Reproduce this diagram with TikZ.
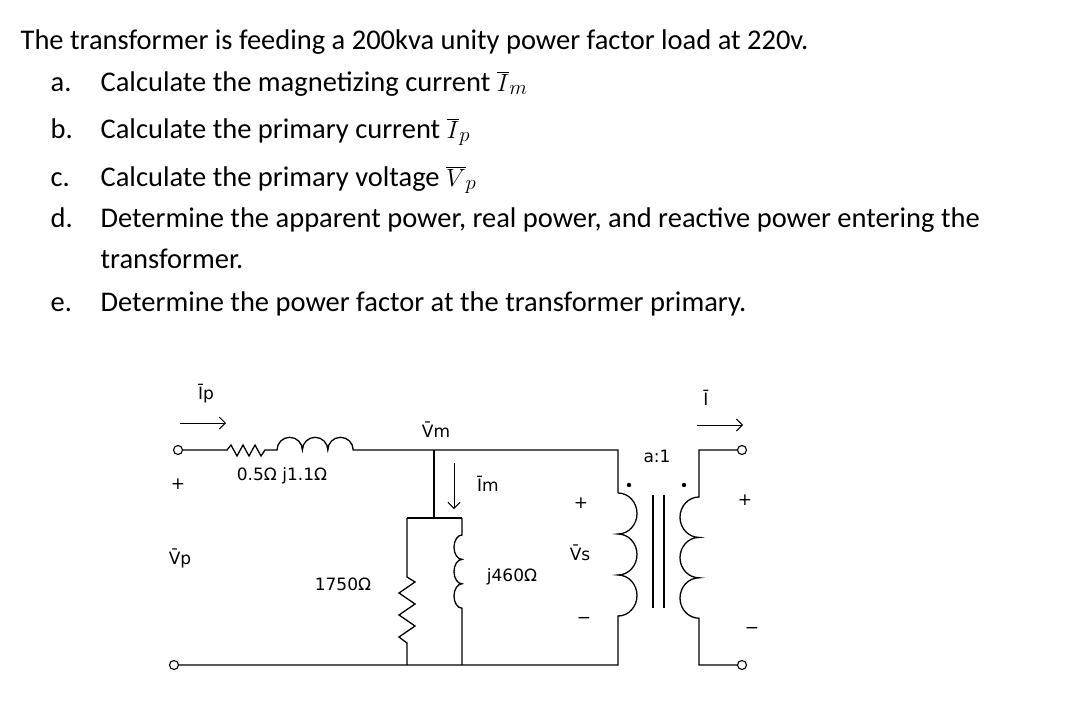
\documentclass[tikz,border=0pt]{standalone}
\usepackage{fontspec}
\usetikzlibrary{arrows.meta}
\setmainfont{Carlito}
\newfontfamily\cfont{DejaVu Sans}
\begin{document}
\begin{tikzpicture}[x=1pt,y=-1pt,line width=1.3pt,
  txt/.style={anchor=base west,inner sep=0pt,font=\fontsize{28.5}{30}\selectfont},
  lbl/.style={inner sep=0pt,font=\cfont\fontsize{17}{19}\selectfont},
  term/.style={circle,draw,line width=1.1pt,minimum size=9pt,inner sep=0pt,fill=white}]
\useasboundingbox[fill=white] (0,0) rectangle (1077,702);
% text
\node[txt] (t0) at (20,49) {The transformer is feeding a 200kva unity power factor load at 220v.};
\node[txt] (la) at (50,91) {a.};\node[txt] (ta) at (100,91) {Calculate the magnetizing current $\overline{I}_m$};
\node[txt] (lb) at (50,138) {b.};\node[txt] (tb) at (100,138) {Calculate the primary current $\overline{I}_p$};
\node[txt] (lc) at (50,186) {c.};\node[txt] (tc) at (100,186) {Calculate the primary voltage $\overline{V}_p$};
\node[txt] (ld) at (50,227) {d.};\node[txt] (td) at (100,227) {Determine the apparent power, real power, and reactive power entering the};
\node[txt] (td2) at (100,268) {transformer.};
\node[txt] (le) at (50,311) {e.};\node[txt] (te) at (100,311) {Determine the power factor at the transformer primary.};
% circuit
\node[term] (p1) at (178,450) {};
\node[term] (p2) at (174,665) {};
\node[term] (s1) at (742,450) {};
\node[term] (s2) at (742,665) {};
\draw (p1) -- (227,450) -- (231,445) -- (237,456) -- (243,445) -- (249,456) -- (255,445) -- (261,456) -- (265,450) -- (277,450)
  arc(180:360:12.7) arc(180:360:12.7) arc(180:360:12.7) -- (618,450) -- (618,493);
\draw (618,493) arc(-90:90:19 and 20.5) arc(-90:90:19 and 20.5) arc(-90:90:19 and 20.5) -- (618,665) -- (p2);
\draw (434,450) -- (434,518);
\draw (407,518) -- (462,518);
\draw (407,518) -- (407,577) -- (415,582) -- (399,593) -- (415,604) -- (399,615) -- (415,626) -- (399,637) -- (407,643) -- (407,665);
\draw (462,518) -- (462,535) arc(-90:-270:8 and 12.2) arc(-90:-270:8 and 12.2) arc(-90:-270:8 and 12.2) -- (462,665);
\draw (653,495) -- (653,608) (664,495) -- (664,608);
\draw (s1) -- (699,450) -- (699,497) arc(-90:-270:19 and 20.2) arc(-90:-270:19 and 20.2) arc(-90:-270:19 and 20.2) -- (699,665) -- (s2);
\fill (629,485) circle (2.2pt) (684,485) circle (2.2pt);
% arrows
\draw[line width=1pt,-{Straight Barb[length=6pt,width=12pt]}] (180,423) -- (226,423);
\draw[line width=1pt,-{Straight Barb[length=6pt,width=12pt]}] (697,425) -- (743,425);
\draw[line width=1pt,-{Straight Barb[length=6pt,width=12pt]}] (454,463) -- (454,509);
% labels
\node[lbl] (lip) at (206,394) {Īp};
\node[lbl] (lpl) at (178,484) {+};
\node[lbl] (lr) at (282,476) {0.5Ω j1.1Ω};
\node[lbl] (lvp) at (180,558) {V̄p};
\node[lbl] (lrm) at (343,584) {1750Ω};
\node[lbl] (lvm) at (436,430) {V̄m};
\node[lbl] (lim) at (488,484) {Īm};
\node[lbl] (lx) at (512,577) {j460Ω};
\node[lbl] (lsp) at (581,503) {+};
\node[lbl] (lvs) at (580,553) {V̄s};
\node[lbl] (lsm) at (584,620) {−};
\node[lbl] (la1) at (657,456) {a:1};
\node[lbl] (li) at (706,398) {Ī};
\node[lbl] (lop) at (745,500) {+};
\node[lbl] (lom) at (752,630) {−};
\end{tikzpicture}
\end{document}
